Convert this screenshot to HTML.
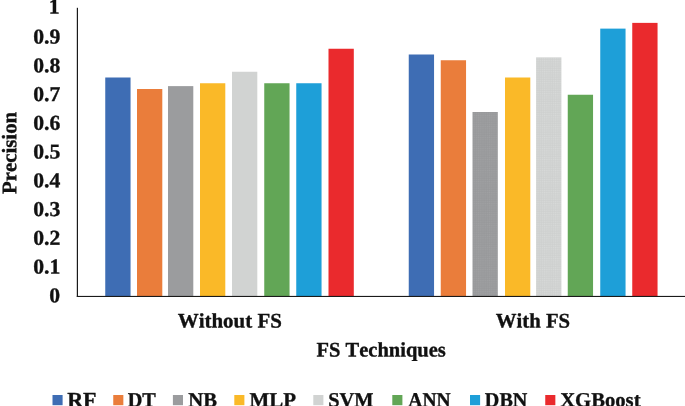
<!DOCTYPE html>
<html><head><meta charset="utf-8"><title>Chart</title>
<style>html,body{margin:0;padding:0;background:#fff;overflow:hidden}body{width:685px;height:406px;position:relative}</style></head>
<body>
<svg width="685" height="406" viewBox="0 0 685 406" style="display:block;position:absolute;left:0;top:0">
<rect width="685" height="406" fill="#fff"/>
<defs><pattern id="dg" width="2.2" height="2.2" patternUnits="userSpaceOnUse"><rect width="2.2" height="2.2" fill="#97989a"/><rect x="0.5" y="0.5" width="1.4" height="1.4" fill="#a0a1a3"/></pattern><pattern id="dl" width="2.2" height="2.2" patternUnits="userSpaceOnUse"><rect width="2.2" height="2.2" fill="#cdcfce"/><rect x="0.5" y="0.5" width="1.4" height="1.4" fill="#d7d9d8"/></pattern></defs>
<rect x="105.25" y="77.50" width="25.3" height="218.50" fill="#3e6db4"/>
<rect x="137.00" y="89.00" width="25.3" height="207.00" fill="#ea7d3b"/>
<rect x="168.00" y="86.12" width="25.3" height="209.88" fill="#9b9c9e"/>
<rect x="200.00" y="83.25" width="25.3" height="212.75" fill="#fab928"/>
<rect x="232.00" y="71.75" width="25.3" height="224.25" fill="#d1d3d2"/>
<rect x="264.25" y="83.25" width="25.3" height="212.75" fill="#62a656"/>
<rect x="296.25" y="83.25" width="25.3" height="212.75" fill="#1e9fd8"/>
<rect x="328.50" y="48.75" width="25.3" height="247.25" fill="#ea2a2d"/>
<rect x="408.75" y="54.50" width="25.3" height="241.50" fill="#3e6db4"/>
<rect x="440.75" y="60.25" width="25.3" height="235.75" fill="#ea7d3b"/>
<rect x="472.50" y="112.00" width="25.3" height="184.00" fill="url(#dg)"/>
<rect x="505.00" y="77.50" width="25.3" height="218.50" fill="#fab928"/>
<rect x="536.10" y="57.38" width="25.3" height="238.62" fill="url(#dl)"/>
<rect x="567.75" y="94.75" width="25.3" height="201.25" fill="#62a656"/>
<rect x="600.25" y="28.62" width="25.3" height="267.38" fill="#1e9fd8"/>
<rect x="632.25" y="22.88" width="25.3" height="273.12" fill="#ea2a2d"/>
<rect x="76.8" y="7.8" width="1.2" height="289.20" fill="#1a1a1a"/>
<rect x="76.8" y="295.90" width="608.2" height="1.1" fill="#1a1a1a"/>
<g font-family="'Liberation Serif', 'Times New Roman', serif" font-weight="bold" font-size="20.7px" fill="#111" stroke="#111" stroke-width="0.35" stroke-linejoin="round" style="font-kerning:none">
<text transform="matrix(1.0236,0.0005,0,1,49.35,302.35)" font-size="21.2px">0</text>
<text transform="matrix(1.0236,0.0005,0,1,33.20,273.50)" font-size="21.2px">0.1</text>
<text transform="matrix(1.0236,0.0005,0,1,33.20,244.75)" font-size="21.2px">0.2</text>
<text transform="matrix(1.0236,0.0005,0,1,33.20,216.00)" font-size="21.2px">0.3</text>
<text transform="matrix(1.0236,0.0005,0,1,33.20,187.25)" font-size="21.2px">0.4</text>
<text transform="matrix(1.0236,0.0005,0,1,33.20,158.50)" font-size="21.2px">0.5</text>
<text transform="matrix(1.0236,0.0005,0,1,33.20,129.75)" font-size="21.2px">0.6</text>
<text transform="matrix(1.0236,0.0005,0,1,33.20,101.00)" font-size="21.2px">0.7</text>
<text transform="matrix(1.0236,0.0005,0,1,33.20,72.25)" font-size="21.2px">0.8</text>
<text transform="matrix(1.0236,0.0005,0,1,33.20,43.50)" font-size="21.2px">0.9</text>
<text transform="matrix(1.0236,0.0005,0,1,48.85,13.60)" font-size="21.2px">1</text>
<text transform="matrix(1.0118,0.0005,0,1,177.70,327.40)">Without FS</text>
<text transform="matrix(1.0027,0.0005,0,1,495.79,327.40)">With FS</text>
<text transform="matrix(0.9909,0.0005,0,1,316.48,356.50)">FS Techniques</text>
<text transform="translate(16.2,194.10) rotate(-90) matrix(1.0089,0.0005,0,1,0,0)">Precision</text>
<rect x="52.5" y="395" width="10.1" height="10.2" fill="#3e6db4" stroke="none"/>
<text transform="matrix(1.0652,0.0005,0,1,67.20,406.70)">RF</text>
<rect x="113.25" y="395" width="10.1" height="10.2" fill="#ea7d3b" stroke="none"/>
<text transform="matrix(0.9792,0.0005,0,1,127.63,406.70)">DT</text>
<rect x="172.9" y="395" width="10.1" height="10.2" fill="#9b9c9e" stroke="none"/>
<text transform="matrix(0.9973,0.0005,0,1,188.36,406.70)">NB</text>
<rect x="234.3" y="395" width="10.1" height="10.2" fill="#fab928" stroke="none"/>
<text transform="matrix(1.0120,0.0005,0,1,249.45,406.70)">MLP</text>
<rect x="313.3" y="395" width="10.1" height="10.2" fill="#d1d3d2" stroke="none"/>
<text transform="matrix(0.9830,0.0005,0,1,328.14,406.70)">SVM</text>
<rect x="392.3" y="395" width="10.1" height="10.2" fill="#62a656" stroke="none"/>
<text transform="matrix(0.9421,0.0005,0,1,408.37,406.70)">ANN</text>
<rect x="470" y="395" width="10.1" height="10.2" fill="#1e9fd8" stroke="none"/>
<text transform="matrix(0.9735,0.0005,0,1,484.86,406.70)">DBN</text>
<rect x="545.25" y="395" width="10.1" height="10.2" fill="#ea2a2d" stroke="none"/>
<text transform="matrix(0.9981,0.0005,0,1,560.20,406.70)">XGBoost</text>
</g></svg>
</body></html>
